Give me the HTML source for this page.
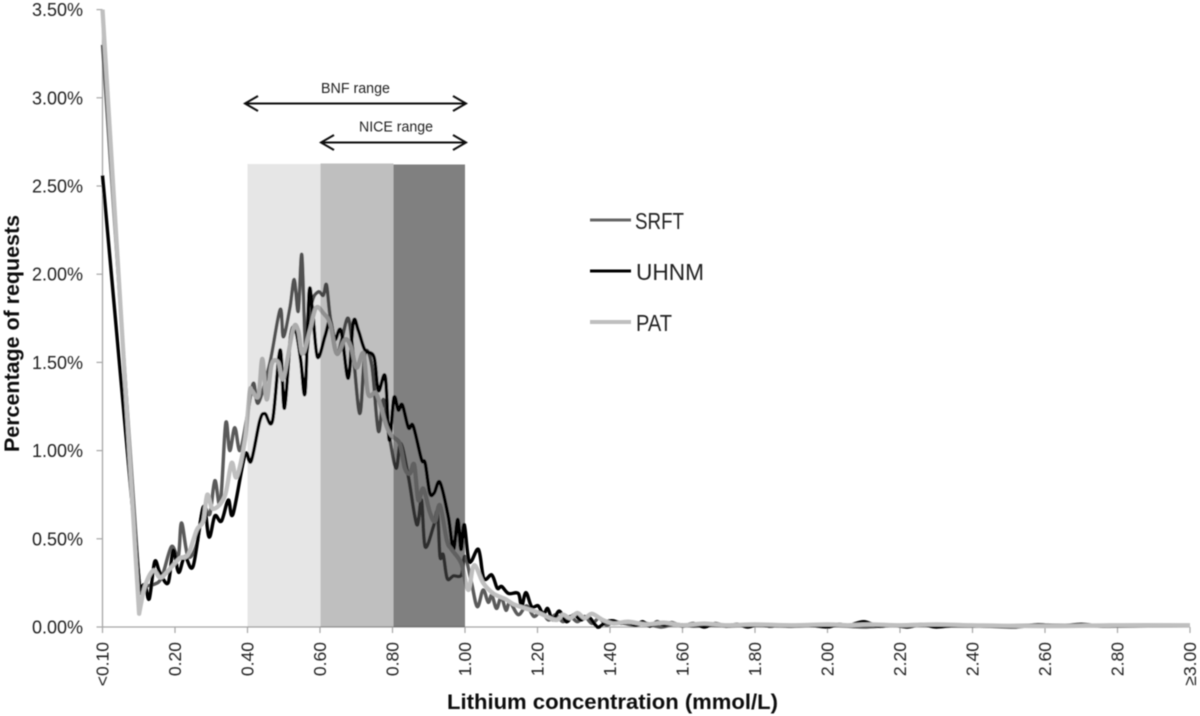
<!DOCTYPE html>
<html lang="en">
<head>
<meta charset="utf-8">
<title>Lithium concentration chart</title>
<style>
html,body{margin:0;padding:0;background:#fff;width:1200px;height:716px;overflow:hidden}
svg{display:block}
text{font-family:"Liberation Sans",sans-serif}
.band{mix-blend-mode:multiply}
</style>
</head>
<body>
<svg id="chart" xmlns="http://www.w3.org/2000/svg" width="1200" height="716" viewBox="0 0 1200 716">
  <defs>
    <filter id="soft" x="-5%" y="-5%" width="110%" height="110%"><feGaussianBlur stdDeviation="0.45"/></filter>
  </defs>
  <g filter="url(#soft)" style="isolation:isolate">
    <g id="axes"></g>
    <g id="series"></g>
    <rect class="band" x="247.5" y="164" width="73" height="463" fill="#e6e6e6"/>
    <rect class="band" x="320.5" y="163.5" width="73" height="463.5" fill="#bfbfbf"/>
    <rect class="band" x="393.5" y="164.5" width="71.5" height="462.5" fill="#808080"/>

    <g fill="none" stroke="#111" stroke-width="2">
      <path d="M245 103.5H466"/><path d="M258 96L245 103.5L258 111"/><path d="M453 96L466 103.5L453 111"/>
    </g>
    <g fill="none" stroke="#111" stroke-width="2">
      <path d="M321 142.5H466"/><path d="M334 135L321 142.5L334 150"/><path d="M453 135L466 142.5L453 150"/>
    </g>
    <text x="321" y="93" font-size="15" fill="#222" textLength="69" lengthAdjust="spacingAndGlyphs">BNF range</text>
    <text x="359" y="131.5" font-size="15" fill="#222" textLength="74" lengthAdjust="spacingAndGlyphs">NICE range</text>

    <g>
      <g>
        <line x1="590" x2="631" y1="220" y2="220" stroke="#666" stroke-width="3"/>
        <text x="635" y="229" font-size="23" fill="#222" textLength="49" lengthAdjust="spacingAndGlyphs">SRFT</text>
      </g>
      <g>
        <line x1="590" x2="631" y1="271" y2="271" stroke="#000" stroke-width="3"/>
        <text x="636" y="280" font-size="23" fill="#222" textLength="68" lengthAdjust="spacingAndGlyphs">UHNM</text>
      </g>
      <g>
        <line x1="590" x2="631" y1="322" y2="322" stroke="#bfbfbf" stroke-width="4"/>
        <text x="636" y="331" font-size="23" fill="#222" textLength="36" lengthAdjust="spacingAndGlyphs">PAT</text>
      </g>
    </g>

    <text x="447" y="709" font-size="21.5" font-weight="bold" fill="#111" textLength="331" lengthAdjust="spacingAndGlyphs">Lithium concentration (mmol/L)</text>
    <text transform="translate(19,452) rotate(-90)" font-size="21.5" font-weight="bold" fill="#111" textLength="237" lengthAdjust="spacingAndGlyphs">Percentage of requests</text>
  </g>
</svg>
<script>
const yTickValues = [0, 0.5, 1, 1.5, 2, 2.5, 3, 3.5];
const yTickLabels = ["0.00%", "0.50%", "1.00%", "1.50%", "2.00%", "2.50%", "3.00%", "3.50%"];
const xTickValues = [0, 0.2, 0.4, 0.6, 0.8, 1, 1.2, 1.4, 1.6, 1.8, 2, 2.2, 2.4, 2.6, 2.8, 3];
const xTickLabels = ["<0.10", "0.20", "0.40", "0.60", "0.80", "1.00", "1.20", "1.40", "1.60", "1.80", "2.00", "2.20", "2.40", "2.60", "2.80", "≥3.00"];

const srftConc = [0,.103,.117,.14,.163,.19,.209,.218,.236,.26,
.278,.296,.31,.325,.34,.351,.365,.379,.397,.41,
.418,.43,.462,.49,.499,.517,.529,.54,.55,.561,
.577,.595,.609,.618,.628,.646,.66,.678,.692,.71,
.724,.743,.761,.775,.793,.81,.823,.844,.867,.88,
.89,.913,.924,.931,.94,.951,.968,.99,1.0,1.018,
1.034,1.05,1.064,1.074,1.087,1.10,1.113,1.124,1.147,1.17,
1.19,1.21,1.23,1.25,1.27,1.29,1.31,1.33,1.35,1.37,
1.39,1.41,1.44,1.47,1.50,1.54,1.58,1.63,1.68,1.73,
1.80,1.90,2.00,2.10,2.20,2.40,2.60,2.80,3.00];
const srftValues = [3.30,.19,.23,.24,.28,.455,.40,.59,.40,.47,
.68,.64,.83,.70,1.155,1.0,1.13,1.0,1.17,1.33,
1.38,1.27,1.50,1.80,1.645,1.81,1.97,1.79,2.11,1.55,
1.83,1.90,1.88,1.94,1.76,1.55,1.63,1.75,1.54,1.21,
1.55,1.48,1.11,1.29,1.06,.90,1.04,.85,.58,.72,
.455,.57,.65,.40,.41,.275,.29,.295,.40,.25,
.115,.21,.14,.18,.105,.17,.095,.14,.07,.12,
.06,.09,.04,.07,.03,.06,.03,.06,.02,.05,
.01,.03,.02,.01,.02,.0,.015,.005,.01,.005,
.01,.005,.01,.0,.01,.005,.01,.005,.01];

const uhnmConc = [0,.103,.117,.129,.144,.158,.181,.195,.21,.227,
.25,.278,.294,.31,.328,.347,.36,.393,.41,.434,
.448,.469,.49,.502,.519,.533,.547,.559,.57,.58,
.593,.614,.628,.641,.658,.678,.692,.706,.724,.749,
.761,.78,.791,.804,.816,.827,.844,.857,.88,.89,
.903,.915,.931,.954,.968,.98,.989,.998,1.012,1.037,
1.052,1.074,1.089,1.101,1.12,1.147,1.156,1.168,1.184,1.202,
1.216,1.228,1.242,1.26,1.28,1.30,1.32,1.34,1.36,1.37,
1.39,1.41,1.43,1.45,1.47,1.49,1.51,1.53,1.55,1.57,
1.60,1.63,1.66,1.69,1.72,1.75,1.78,1.81,1.84,1.87,
1.90,1.95,2.00,2.03,2.06,
2.10,2.14,2.18,2.22,2.26,2.30,2.36,2.44,2.52,2.58,
2.64,2.70,2.76,2.84,2.92,3.00];
const uhnmValues = [2.56,.21,.24,.16,.37,.31,.25,.435,.31,.40,
.345,.68,.51,.63,.60,.72,.64,.975,.94,1.17,
1.21,1.17,1.57,1.24,1.65,1.68,1.51,1.33,1.90,1.78,
1.53,1.65,1.74,1.63,1.68,1.41,1.73,1.68,1.57,1.53,
1.34,1.42,1.06,1.30,1.23,1.26,1.13,1.14,.95,.93,
.76,.76,.82,.625,.44,.61,.44,.58,.37,.44,
.275,.295,.22,.23,.19,.19,.115,.195,.115,.12,
.07,.105,.04,.09,.03,.07,.04,.06,.01,.0,
.03,.035,.02,.03,.01,.03,.005,.03,.01,.025,
.005,.02,.0,.02,.005,.015,.0,.015,.005,.01,
.005,.01,.0,.015,.01,
.03,.005,.01,.0,.015,.0,.01,.005,.0,.012,
.005,.015,.005,.01,.008,.01];

const patConc = [0,.101,.117,.14,.16,.186,.213,.236,.26,.278,
.289,.305,.337,.356,.37,.393,.406,.412,.43,.441,
.453,.467,.485,.499,.526,.54,.552,.572,.589,.609,
.628,.646,.669,.685,.701,.72,.733,.756,.784,.80,
.82,.834,.848,.86,.871,.885,.903,.917,.931,.95,
.963,.99,1.009,1.025,1.05,1.078,1.11,1.133,1.152,1.198,
1.25,1.27,1.29,1.31,1.33,1.35,1.38,1.41,1.45,1.5,
1.55,1.6,1.66,1.72,1.8,1.9,2.0,2.06,2.12,2.2,
2.3,2.4,2.6,2.8,3.0];
const patValues = [3.50,.075,.23,.32,.28,.33,.39,.41,.55,.60,
.75,.67,.74,.93,.85,1.06,1.33,1.34,1.31,1.52,
1.29,1.49,1.50,1.41,1.69,1.68,1.55,1.68,1.81,1.78,
1.72,1.55,1.63,1.59,1.47,1.55,1.32,1.32,1.135,1.08,
1.04,.9,.87,.92,.72,.785,.65,.6,.69,.49,
.44,.36,.21,.35,.25,.19,.16,.13,.115,.085,
.04,.07,.05,.08,.05,.075,.04,.02,.03,.015,
.025,.01,.02,.01,.015,.01,.015,.01,.015,.01,
.015,.01,.005,.01,.01];

const SVG_NS = "http://www.w3.org/2000/svg";
function xScale(conc) { return 102.5 + conc * 362.5; }
function yScale(pct) { return 627 - pct * 176.4; }

function curvePath(concs, vals) {
  const n = Math.min(concs.length, vals.length);
  const p = [];
  for (let i = 0; i < n; i++) p.push([xScale(concs[i]), yScale(vals[i])]);
  let d = "M" + p[0][0].toFixed(2) + " " + p[0][1].toFixed(2) + "L" + p[1][0].toFixed(2) + " " + p[1][1].toFixed(2);
  for (let i = 1; i < n - 1; i++) {
    const a = p[Math.max(i - 1, 1)], b = p[i], c = p[i + 1], e = p[Math.min(i + 2, n - 1)];
    const c1x = b[0] + (c[0] - a[0]) / 6, c1y = b[1] + (c[1] - a[1]) / 6;
    const c2x = c[0] - (e[0] - b[0]) / 6, c2y = c[1] - (e[1] - b[1]) / 6;
    d += "C" + c1x.toFixed(2) + " " + c1y.toFixed(2) + " " + c2x.toFixed(2) + " " + c2y.toFixed(2) + " " + c[0].toFixed(2) + " " + c[1].toFixed(2);
  }
  return d;
}

const axes = document.getElementById("axes");
const seriesGroup = document.getElementById("series");

const yAxisLine = document.createElementNS(SVG_NS, "line");


yAxisLine.setAttribute("x1", xScale(0)); yAxisLine.setAttribute("x2", xScale(0));
yAxisLine.setAttribute("y1", yScale(3.5)); yAxisLine.setAttribute("y2", yScale(0));
yAxisLine.setAttribute("stroke", "#a6a6a6"); yAxisLine.setAttribute("stroke-width", "1.3");
axes.appendChild(yAxisLine);

const xAxisLine = document.createElementNS(SVG_NS, "line");


xAxisLine.setAttribute("x1", xScale(0)); xAxisLine.setAttribute("x2", xScale(3));
xAxisLine.setAttribute("y1", yScale(0)); xAxisLine.setAttribute("y2", yScale(0));
xAxisLine.setAttribute("stroke", "#a6a6a6"); xAxisLine.setAttribute("stroke-width", "1.3");
axes.appendChild(xAxisLine);

yTickValues.forEach(function (v, i) {
  const tick = document.createElementNS(SVG_NS, "line");
  
  
  tick.setAttribute("x1", xScale(0) - 6); tick.setAttribute("x2", xScale(0));
  tick.setAttribute("y1", yScale(v)); tick.setAttribute("y2", yScale(v));
  tick.setAttribute("stroke", "#a6a6a6"); tick.setAttribute("stroke-width", "1.2");
  axes.appendChild(tick);
  const label = document.createElementNS(SVG_NS, "text");
  
  
  label.setAttribute("x", 83); label.setAttribute("y", yScale(v) + 6.5);
  label.setAttribute("text-anchor", "end"); label.setAttribute("font-size", "18");
  label.setAttribute("fill", "#222");
  label.textContent = yTickLabels[i];
  axes.appendChild(label);
});

xTickValues.forEach(function (v, i) {
  const tick = document.createElementNS(SVG_NS, "line");
  
  
  tick.setAttribute("x1", xScale(v)); tick.setAttribute("x2", xScale(v));
  tick.setAttribute("y1", yScale(0)); tick.setAttribute("y2", yScale(0) + 6);
  tick.setAttribute("stroke", "#a6a6a6"); tick.setAttribute("stroke-width", "1.2");
  axes.appendChild(tick);
  const label = document.createElementNS(SVG_NS, "text");
  
  
  label.setAttribute("transform", "translate(" + (xScale(v) + 6) + ",642) rotate(-90)");
  label.setAttribute("text-anchor", "end"); label.setAttribute("font-size", "17.5");
  label.setAttribute("fill", "#222");
  label.textContent = xTickLabels[i];
  axes.appendChild(label);
});

const srftLine = document.createElementNS(SVG_NS, "path");


srftLine.setAttribute("d", curvePath(srftConc, srftValues));
srftLine.setAttribute("fill", "none"); srftLine.setAttribute("stroke", "#5a5a5a");
srftLine.setAttribute("stroke-width", "3.4"); srftLine.setAttribute("stroke-linejoin", "round");
seriesGroup.appendChild(srftLine);

const uhnmLine = document.createElementNS(SVG_NS, "path");


uhnmLine.setAttribute("d", curvePath(uhnmConc, uhnmValues));
uhnmLine.setAttribute("fill", "none"); uhnmLine.setAttribute("stroke", "#000");
uhnmLine.setAttribute("stroke-width", "3.4"); uhnmLine.setAttribute("stroke-linejoin", "round");
seriesGroup.appendChild(uhnmLine);

const patLine = document.createElementNS(SVG_NS, "path");


patLine.setAttribute("d", curvePath(patConc, patValues));
patLine.setAttribute("fill", "none"); patLine.setAttribute("stroke", "#bfbfbf");
patLine.setAttribute("stroke-width", "4.3"); patLine.setAttribute("stroke-linejoin", "round");
seriesGroup.appendChild(patLine);
</script>
</body>
</html>
